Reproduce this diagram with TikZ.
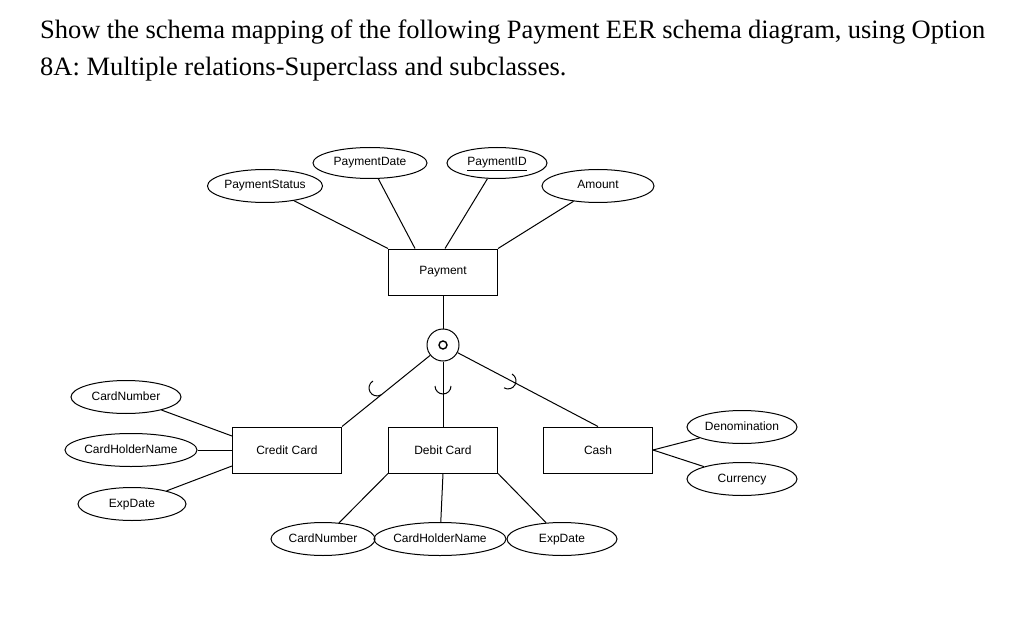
\documentclass[tikz,border=0pt]{standalone}
\usepackage{fontspec}
\setmainfont{Liberation Serif}
\newfontfamily\arialf{Liberation Sans}
\usetikzlibrary{shapes.geometric}
\begin{document}
\begin{tikzpicture}[x=1pt,y=-1pt,
  attr/.style={draw,ellipse,line width=1pt,minimum height=33pt,inner sep=0pt,text height=9pt,text depth=3pt,font=\arialf\fontsize{12}{14}\selectfont},
  ent/.style={draw,rectangle,line width=1pt,minimum width=109pt,minimum height=46pt,font=\arialf\fontsize{12}{14}\selectfont},
  ln/.style={line width=1pt}]
\useasboundingbox (0,0) rectangle (1024,628);
\node[anchor=north west,text width=945pt,align=justify,inner sep=0pt,font=\fontsize{26.5}{37}\selectfont] (title) at (40,20)
 {Show the schema mapping of the following Payment EER schema diagram, using Option 8A: Multiple relations-Superclass and subclasses.};
\node[ent] (pay) at (443,272) {Payment};
\node[ent] (cc) at (287,450) {Credit Card};
\node[ent] (dc) at (443,450) {Debit Card};
\node[ent] (cash) at (598,450) {Cash};
\node[attr,minimum width=112pt] (ps) at (265,186) {PaymentStatus};
\node[attr,minimum width=114pt,minimum height=31pt] (pd) at (370,163) {PaymentDate};
\node[attr,minimum width=100pt,minimum height=31pt] (pid) at (497,163) {\underline{PaymentID}};
\node[attr,minimum width=112pt] (amt) at (598,186) {Amount};
\node[attr,minimum width=110pt] (cn1) at (126,397) {CardNumber};
\node[attr,minimum width=108pt] (chn1) at (131,450) {CardHolderName};
\node[attr,minimum width=108pt] (ed1) at (132,504) {ExpDate};
\node[attr,minimum width=110pt] (den) at (742,427) {Denomination};
\node[attr,minimum width=110pt] (cur) at (742,479) {Currency};
\node[attr,minimum width=104pt] (cn2) at (323,539) {CardNumber};
\node[attr,minimum width=110pt] (chn2) at (440,539) {CardHolderName};
\node[attr,minimum width=110pt] (ed2) at (562,539) {ExpDate};
\node[draw,circle,minimum size=32pt,inner sep=0pt,line width=1pt] (dis) at (443,345) {};
\node[draw,circle,minimum size=8pt,inner sep=0pt,line width=1.4pt] (o) at (443,345) {};
\draw[ln] (ps) -- (pay.north west);
\draw[ln] (pd) -- ([xshift=-28pt]pay.north);
\draw[ln] (pid) -- ([xshift=2pt]pay.north);
\draw[ln] (amt) -- (pay.north east);
\draw[ln] (pay) -- (dis);
\draw[ln] (dis) -- (cc.north east);
\draw[ln] (dis) -- (dc);
\draw[ln] (dis) -- ([xshift=-55pt]cash.north east);
\draw[ln] (cn1) -- ([yshift=14pt]cc.west);
\draw[ln] (chn1) -- (cc.west);
\draw[ln] (ed1) -- ([yshift=-16pt]cc.west);
\draw[ln] (cn2) -- (dc.south west);
\draw[ln] (chn2) -- (dc.south);
\draw[ln] (ed2) -- (dc.south east);
\draw[ln] (den) -- (cash.east);
\draw[ln] (cur) -- (cash.east);
% subset symbols
\draw[ln] (373,381) arc[start angle=120,end angle=300,radius=8pt] ;
\draw[ln] (435,386) arc[start angle=180,end angle=360,radius=8pt];
\draw[ln] (512,374) arc[start angle=60,end angle=-120,radius=8pt];
\end{tikzpicture}
\end{document}
